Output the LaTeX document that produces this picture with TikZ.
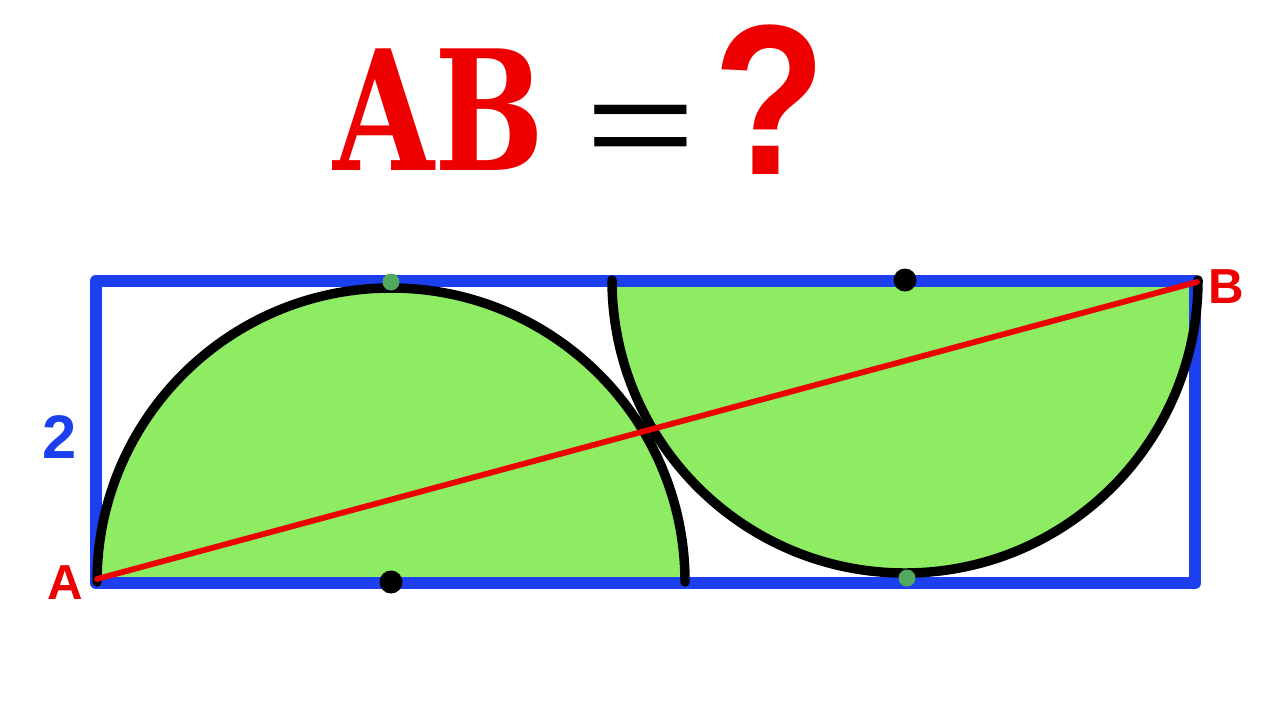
\documentclass[tikz,border=0pt]{standalone}
\usepackage{fontspec}
\setmainfont{Liberation Sans}
\newfontfamily\titleserif{DejaVu Serif}
\definecolor{rblue}{RGB}{28,64,240}
\definecolor{rred}{RGB}{238,0,0}
\definecolor{leaf}{RGB}{142,236,98}
\definecolor{dotgreen}{RGB}{82,168,92}
\begin{document}
\begin{tikzpicture}[x=0.02cm,y=-0.02cm,
  frame/.style={draw=rblue,line width=7pt,line join=round},
  halfdisc/.style={fill=leaf},
  arcline/.style={draw=black,line width=5.4pt,line cap=round},
  seg/.style={draw=rred,line width=3.3pt,line cap=round},
  bigdot/.style={circle,fill=black,inner sep=0pt,minimum size=23*0.02cm},
  smalldot/.style={circle,fill=dotgreen,inner sep=0pt,minimum size=17*0.02cm},
  lbl/.style={font=\bfseries\fontsize{28}{28}\selectfont,inner sep=0pt}]
\useasboundingbox[fill=white] (0,0) rectangle (1280,720);
% title
\node[anchor=base west,inner sep=0pt,text=rred] (ab) at (333,170)
  {\scalebox{0.78}[1]{\titleserif\bfseries\fontsize{95}{95}\selectfont AB}};
\node[anchor=base,inner sep=0pt] (eq) at (641,168)
  {\scalebox{1}[0.68]{\fontsize{108}{108}\selectfont =}};
\node[anchor=base,inner sep=0pt,text=rred] (qm) at (770,174)
  {\scalebox{0.86}[1]{\bfseries\fontsize{122}{122}\selectfont ?}};
% geometry
\coordinate (A) at (97,579);
\coordinate (B) at (1197,282);
\coordinate (O1) at (391,582);
\coordinate (O2) at (905,280);
\fill[halfdisc] (97,582) arc[start angle=180,end angle=360,radius=294] -- cycle;
\fill[halfdisc] (612,280) arc[start angle=180,end angle=0,radius=293] -- cycle;
\draw[frame] (96,281) rectangle (1195,583);
\draw[arcline] (97,582) arc[start angle=180,end angle=360,radius=294];
\draw[arcline] (612,280) arc[start angle=180,end angle=0,radius=293];
\draw[seg] (A) -- (B);
\node[bigdot] (c1) at (O1) {};
\node[bigdot] (c2) at (O2) {};
\node[smalldot] (t1) at (391,282) {};
\node[smalldot] (t2) at (907,578) {};
% labels
\node[lbl,text=rblue] (two) at (60,437) {\fontsize{35}{35}\selectfont 2};
\node[lbl,text=rred] (la) at (65,583) {A};
\node[lbl,text=rred] (lb) at (1226,287) {B};
\end{tikzpicture}
\end{document}
